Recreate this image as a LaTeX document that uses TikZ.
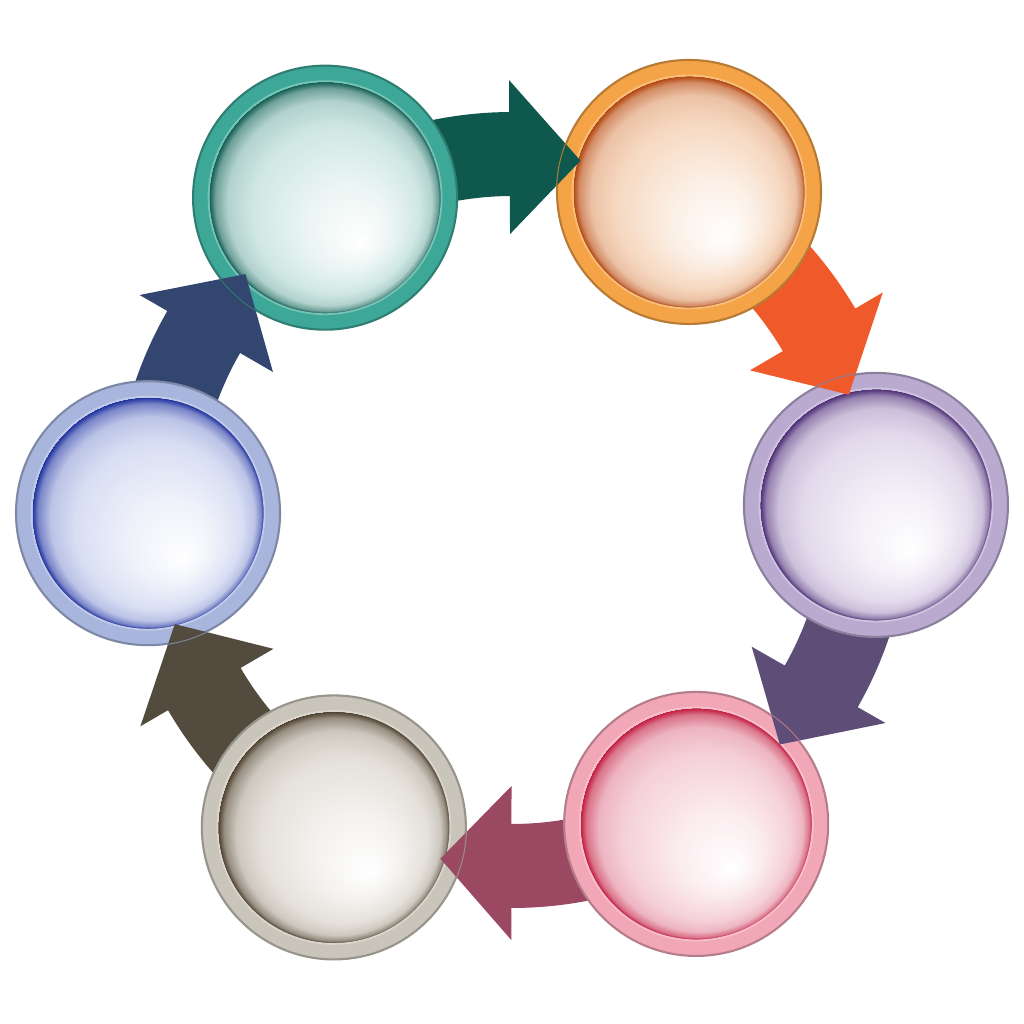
\documentclass[tikz,border=0pt]{standalone}
\usetikzlibrary{calc}

\definecolor{ringteal}{HTML}{3EA898}
\definecolor{tintteal}{HTML}{CFE7E3}
\definecolor{rimteal}{HTML}{0E5A50}
\definecolor{arrowteal}{HTML}{0F584E}

\definecolor{ringorange}{HTML}{F4A447}
\definecolor{tintorange}{HTML}{F6D8C0}
\definecolor{rimorange}{HTML}{B0420C}
\definecolor{arroworange}{HTML}{F0592A}

\definecolor{ringpurple}{HTML}{BAAAD0}
\definecolor{tintpurple}{HTML}{E2DAEC}
\definecolor{rimpurple}{HTML}{4A2A72}
\definecolor{arrowpurple}{HTML}{5E4D77}

\definecolor{ringpink}{HTML}{F2A7B7}
\definecolor{tintpink}{HTML}{F5D0D8}
\definecolor{rimpink}{HTML}{C0183C}
\definecolor{arrowpink}{HTML}{9B4862}

\definecolor{ringgray}{HTML}{CAC5BA}
\definecolor{tintgray}{HTML}{E4E0D9}
\definecolor{rimgray}{HTML}{4A3C2A}
\definecolor{arrowgray}{HTML}{524B3E}

\definecolor{ringblue}{HTML}{A8B6DE}
\definecolor{tintblue}{HTML}{D8DEF3}
\definecolor{rimblue}{HTML}{1A2C9C}
\definecolor{arrowblue}{HTML}{33466F}

\colorlet{tint}{white}
\colorlet{rim}{black}
% the path box is mapped onto -25bp..25bp
\pgfdeclareradialshading[tint,rim]{bulb}{\pgfpoint{8bp}{-10bp}}{%
  color(0bp)=(white); color(9bp)=(white!60!tint); color(18bp)=(tint);
  color(22bp)=(tint!85!rim); color(24bp)=(tint!50!rim); color(25bp)=(rim)}

\tikzset{
  bubble/.style={circle, minimum size=2.64cm, inner sep=0pt, draw=#1!75!black, fill=#1, line width=0.6pt},
  cyclearrow/.style={insert path={(#1-15:3.98) arc[start angle=#1-15, end angle=#1-30.5, radius=3.98]
    -- (#1-30.5:4.30) -- (#1-42:3.56) -- (#1-30.5:2.76) -- (#1-30.5:3.14)
    arc[start angle=#1-30.5, end angle=#1-15, radius=3.14] -- cycle}},
}

\begin{document}
\begin{tikzpicture}
  \fill[white] (0,0) rectangle (10.24,10.24);
  \useasboundingbox (0,0) rectangle (10.24,10.24);
  \coordinate (hub) at (5.12,5.14);
  \begin{scope}[shift={(hub)}]
    % arrows first, their tails go under the bubbles
    \foreach \nm/\ang in {teal/120.9, orange/60.9, purple/0.8, pink/-59.6, gray/-119.3, blue/180.5}
      \fill[arrow\nm] [cyclearrow=\ang];
    % bubbles
    \foreach \nm/\ang in {teal/120.9, orange/60.9, purple/0.8, pink/-59.6, gray/-119.3, blue/180.5}{
      \node[bubble=ring\nm] (\nm) at (\ang:3.64) {};
      \colorlet{tint}{tint\nm}
      \colorlet{rim}{rim\nm}
      \shade[shading=bulb] (\nm.center) circle (1.16);
      \draw[ring\nm!70!white, line width=0.5pt] (\nm.center) circle (1.165);
    }
    % heads sit on top of the next ring
    \foreach \src/\dst/\ang in {teal/orange/120.9, orange/purple/60.9, purple/pink/0.8,
                                pink/gray/-59.6, gray/blue/-119.3, blue/teal/180.5}{
      \begin{scope}
        \clip (\dst.center) circle (1.32);
        \fill[arrow\src] [cyclearrow=\ang];
      \end{scope}
    }
  \end{scope}
\end{tikzpicture}
\end{document}
